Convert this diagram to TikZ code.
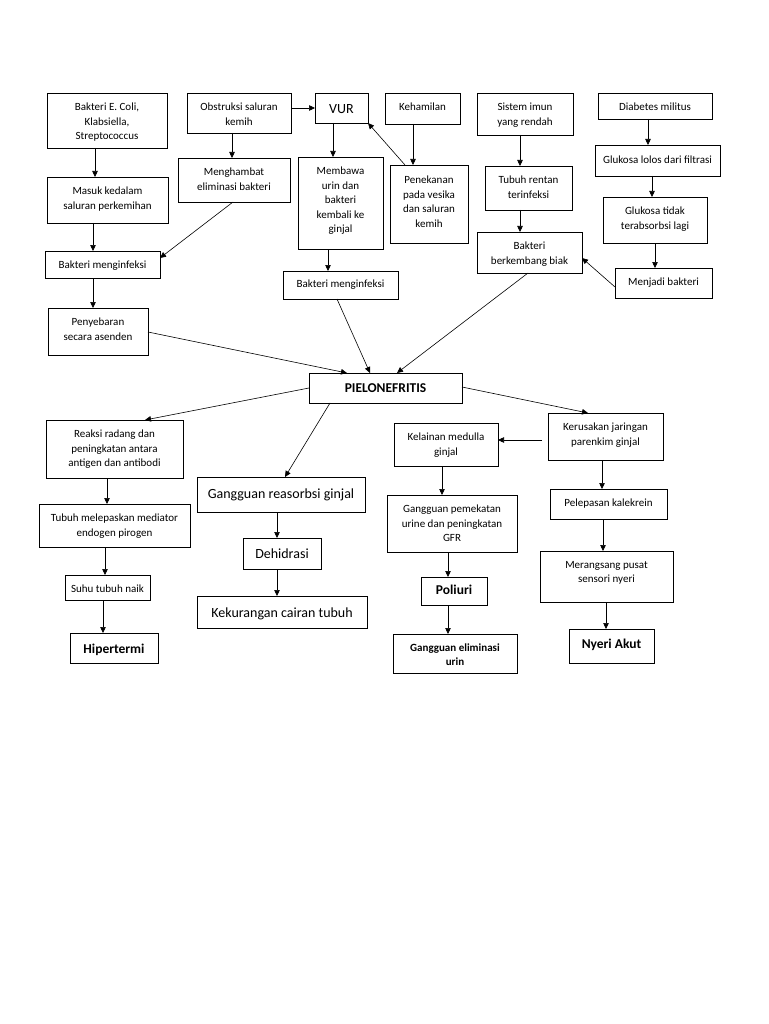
\documentclass[tikz,border=0pt]{standalone}
\usepackage{fontspec}
\setmainfont{Carlito}
\usetikzlibrary{arrows.meta,calc}
\tikzset{
 box/.style={draw=black, line width=0.8pt, inner sep=0pt, outer sep=0pt, fill=white},
 lbl/.style={align=center, inner sep=0pt, font=\fontsize{11}{14.5}\selectfont},
 big/.style={font=\fontsize{14}{16}\selectfont},
 bigb/.style={font=\fontsize{13.5}{16}\selectfont\bfseries},
 arr/.style={-{Triangle[length=6pt,width=5.5pt]}, line width=0.6pt},
}
\newcommand\bx[7]{%
 \node[box, minimum width={(#4-#2)*1pt}, minimum height={(#5-#3)*1pt}] (#1) at ({(#2+#4)/2},{(#3+#5)/2}) {};
 \node[lbl, anchor=north, #6] (#1-t) at ([yshift=-10pt]#1.north) {#7};}
\newcommand\va[3]{\draw[arr] (#1.south -| #3,0) -- (#2.north -| #3,0);}
\begin{document}
\begin{tikzpicture}[x=1pt,y=-1pt]
\path[use as bounding box, fill=white] (0,0) rectangle (768,1024);
\bx{ecoli}{47}{93}{167}{148}{}{Bakteri E. Coli,\\Klabsiella,\\Streptococcus}
\bx{obs}{187}{93}{291}{133}{}{Obstruksi saluran\\kemih}
\bx{vur}{315}{93}{368}{123}{big, yshift=-1pt}{VUR}
\bx{hamil}{385}{93}{460}{124}{}{Kehamilan}
\bx{imun}{477}{93}{573}{135}{}{Sistem imun\\yang rendah}
\bx{dm}{598}{93}{712}{119}{}{Diabetes militus}
\bx{masuk}{47}{177}{168}{223}{}{Masuk kedalam\\saluran perkemihan}
\bx{hambat}{178}{158}{290}{202}{}{Menghambat\\eliminasi bakteri}
\bx{bawa}{298}{157}{383}{249}{}{Membawa\\urin dan\\bakteri\\kembali ke\\ginjal}
\bx{tekan}{390}{165}{468}{243}{yshift=-1pt}{Penekanan\\pada vesika\\dan saluran\\kemih}
\bx{lolos}{595}{145}{720}{176}{yshift=-1pt}{Glukosa lolos dari filtrasi}
\bx{rentan}{485}{166}{572}{210}{}{Tubuh rentan\\terinfeksi}
\bx{tidak}{603}{197}{707}{243}{}{Glukosa tidak\\terabsorbsi lagi}
\bx{biak}{477}{232}{582}{273}{}{Bakteri\\berkembang biak}
\bx{infa}{45}{251}{160}{278}{}{Bakteri menginfeksi}
\bx{infb}{283}{271}{398}{299}{yshift=1pt}{Bakteri menginfeksi}
\bx{jadi}{615}{268}{712}{298}{}{Menjadi bakteri}
\bx{asenden}{48}{308}{148}{355}{}{Penyebaran\\secara asenden}
\bx{pielo}{309}{373}{462}{403}{font=\fontsize{13.5}{15}\selectfont\bfseries}{PIELONEFRITIS}
\bx{reaksi}{46}{420}{183}{478}{}{Reaksi radang dan\\peningkatan antara\\antigen dan antibodi}
\bx{kerusakan}{548}{413}{663}{460}{}{Kerusakan jaringan\\parenkim ginjal}
\bx{medulla}{394}{423}{498}{466}{}{Kelainan medulla\\ginjal}
\bx{reasorbsi}{197}{477}{365}{512}{big, yshift=-2pt}{Gangguan reasorbsi ginjal}
\bx{mediator}{39}{504}{190}{547}{}{Tubuh melepaskan mediator\\endogen pirogen}
\bx{pemekatan}{387}{495}{517}{552}{}{Gangguan pemekatan\\urine dan peningkatan\\GFR}
\bx{kalekrein}{550}{489}{667}{519}{}{Pelepasan kalekrein}
\bx{dehidrasi}{243}{538}{321}{569}{big, yshift=-1pt}{Dehidrasi}
\bx{merangsang}{540}{551}{673}{602}{}{Merangsang pusat\\sensori nyeri}
\bx{suhu}{65}{575}{150}{600}{}{Suhu tubuh naik}
\bx{poliuri}{421}{577}{487}{605}{bigb, yshift=2pt}{Poliuri}
\bx{kekurangan}{197}{596}{367}{628}{big, yshift=-2pt}{Kekurangan cairan tubuh}
\bx{hiper}{70}{633}{158}{663}{bigb, yshift=-1pt}{Hipertermi}
\bx{nyeri}{569}{629}{654}{663}{bigb}{Nyeri Akut}
\bx{elim}{393}{634}{517}{673}{font=\fontsize{11}{14}\selectfont\bfseries}{Gangguan eliminasi\\urin}
% connectors
\va{ecoli}{masuk}{95}
\va{masuk}{infa}{93}
\va{infa}{asenden}{93}
\va{obs}{hambat}{232}
\draw[arr] (obs.east |- vur.west) -- (vur.west);
\va{vur}{bawa}{333}
\va{bawa}{infb}{328}
\va{hamil}{tekan}{413}
\draw[arr] (tekan.north -| 405,0) -- (vur.south east);
\va{imun}{rentan}{520}
\va{rentan}{biak}{520}
\va{dm}{lolos}{648}
\va{lolos}{tidak}{652}
\va{tidak}{jadi}{655}
\draw[arr] (jadi.west |- 0,287) -- (biak.east |- 0,258);
\draw[arr] (hambat.south -| 233,0) -- (infa.east |- 0,258);
\draw[arr] (asenden.east |- 0,332) -- (pielo.north -| 347,0);
\draw[arr] (infb.south -| 337,0) -- (pielo.north -| 370,0);
\draw[arr] (biak.south -| 528,0) -- (pielo.north -| 397,0);
\draw[arr] (pielo.west |- 0,388) -- (reaksi.north -| 145,0);
\draw[arr] (pielo.south -| 330,0) -- (reasorbsi.north -| 285,0);
\draw[arr] (pielo.east |- 0,387) -- (kerusakan.north -| 588,0);
\draw[arr] ([xshift=-6pt]kerusakan.west |- 0,440) -- (medulla.east |- 0,440);
\va{reaksi}{mediator}{107}
\va{mediator}{suhu}{105}
\va{suhu}{hiper}{103}
\va{reasorbsi}{dehidrasi}{277}
\va{dehidrasi}{kekurangan}{277}
\va{medulla}{pemekatan}{442}
\va{pemekatan}{poliuri}{448}
\va{poliuri}{elim}{448}
\va{kerusakan}{kalekrein}{602}
\va{kalekrein}{merangsang}{603}
\va{merangsang}{nyeri}{606}
\end{tikzpicture}
\end{document}
